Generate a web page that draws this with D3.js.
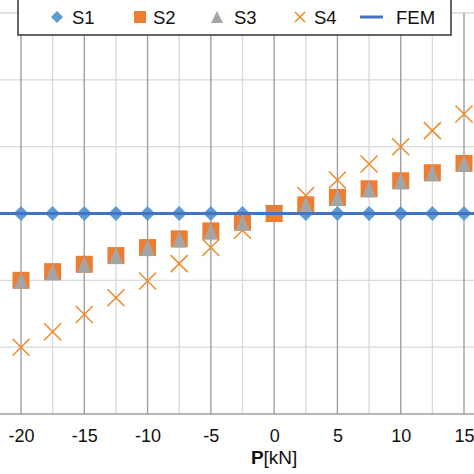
<!DOCTYPE html>
<html><head><meta charset="utf-8">
<script src="https://cdn.jsdelivr.net/npm/d3@7"></script>
<style>html,body{margin:0;padding:0;background:#fff;}svg{display:block;}</style>
</head><body>
<svg id="c" width="474" height="474"></svg>
<script>
const P = [-20,-17.5,-15,-12.5,-10,-7.5,-5,-2.5,0,2.5,5,7.5,10,12.5,15];
const S1 = [0,0,0,0,0,0,0,0,0,0,0,0,0,0,0];
const S2 = [-1.0,-0.87,-0.76,-0.63,-0.51,-0.38,-0.26,-0.13,0.0,0.13,0.24,0.37,0.49,0.61,0.75];
const S3 = [-1.0,-0.87,-0.76,-0.63,-0.51,-0.38,-0.26,-0.13,0.0,0.13,0.24,0.37,0.49,0.61,0.75];
const S4 = [-2.0,-1.77,-1.51,-1.26,-1.01,-0.75,-0.51,-0.25,0.0,0.27,0.50,0.74,1.0,1.24,1.49];
const FEM = [0,0];
const xTicks = [-20,-15,-10,-5,0,5,10,15];
const xMinor = [-17.5,-12.5,-7.5,-2.5,2.5,7.5,12.5];
const yGrid = [-3,-2,-1,0,1,2,3];
const legendNames = ["S1","S2","S3","S4","FEM"];

const svg = d3.select("#c");
const x = d3.scaleLinear().domain([-20,15]).range([21,464]);
const y = d3.scaleLinear().domain([-3,3]).range([414,13]);

// horizontal gridlines
svg.append("g").selectAll("line").data(yGrid.filter(d=>d>-3)).join("line")
  .attr("x1",0).attr("x2",474).attr("y1",d=>y(d)).attr("y2",d=>y(d))
  .attr("stroke","#d9d9d9").attr("stroke-width",1.3);
// minor vertical
svg.append("g").selectAll("line").data(xMinor).join("line")
  .attr("x1",d=>x(d)).attr("x2",d=>x(d)).attr("y1",y(3)).attr("y2",y(-3))
  .attr("stroke","#d9d9d9").attr("stroke-width",1.3);
// major vertical
svg.append("g").selectAll("line").data(xTicks).join("line")
  .attr("x1",d=>x(d)).attr("x2",d=>x(d)).attr("y1",y(3)).attr("y2",y(-3))
  .attr("stroke","#a0a0a0").attr("stroke-width",1.4);
// x axis line
svg.append("line").attr("x1",0).attr("x2",474).attr("y1",y(-3)).attr("y2",y(-3))
  .attr("stroke","#a0a0a0").attr("stroke-width",1.4);

// tick labels via axis
const ax = svg.append("g").attr("transform",`translate(0,${y(-3)})`)
  .call(d3.axisBottom(x).tickValues(xTicks).tickSize(0).tickPadding(15).tickFormat(d=>String(d)));
ax.select(".domain").remove();
ax.selectAll("text").attr("font-family","Liberation Sans, Arial, sans-serif").attr("font-size",18).attr("fill","#111");

// axis title
const t = svg.append("text").attr("x",x(0)).attr("y",464).attr("text-anchor","middle")
  .attr("font-family","Liberation Sans, Arial, sans-serif").attr("font-size",19).attr("fill","#111");
t.append("tspan").attr("font-weight","bold").text("P");
t.append("tspan").text("[kN]");

const xMark = (s)=>`M${-s},${-s}L${s},${s}M${-s},${s}L${s},${-s}`;
const pts = (arr)=>P.map((p,i)=>({p,v:arr[i]}));

// S1 diamonds
svg.append("g").selectAll("path").data(pts(S1)).join("path")
  .attr("transform",d=>`translate(${x(d.p)},${y(d.v)})`)
  .attr("d",`M0,-7.5L7.5,0L0,7.5L-7.5,0Z`).attr("fill","#5b9bd5");
// S4 X
svg.append("g").selectAll("path").data(pts(S4)).join("path")
  .attr("transform",d=>`translate(${x(d.p)},${y(d.v)})`)
  .attr("d",xMark(8.5)).attr("stroke","#ee8a2a").attr("stroke-width",1.5).attr("fill","none");
// S2 squares
svg.append("g").selectAll("rect").data(pts(S2)).join("rect")
  .attr("x",d=>x(d.p)-8.5).attr("y",d=>y(d.v)-8.5).attr("width",17).attr("height",17)
  .attr("fill","#ed7d31");
// S3 triangles
svg.append("g").selectAll("path").data(pts(S3).filter(d=>d.p!==0)).join("path")
  .attr("transform",d=>`translate(${x(d.p)},${y(d.v)})`)
  .attr("d","M0,-8.5L7,8.5L-7,8.5Z").attr("fill","#a5a5a5");
// FEM line
svg.append("line").attr("x1",0).attr("x2",474).attr("y1",y(FEM[0])).attr("y2",y(FEM[1]))
  .attr("stroke","#4472c4").attr("stroke-width",3);

// legend
const lg = svg.append("g");
lg.append("rect").attr("x",18).attr("y",-2).attr("width",433).attr("height",37)
  .attr("fill","#fff").attr("stroke","#333").attr("stroke-width",1.5);
const lf = {"font-family":"Liberation Sans, Arial, sans-serif","font-size":18.5,"fill":"#111"};
const lx = [72,153,234,314,396];
legendNames.forEach((n,i)=>{
  const tx = lg.append("text").attr("x",lx[i]).attr("y",23.5).text(n);
  Object.entries(lf).forEach(([k,v])=>tx.attr(k,v));
});
lg.append("path").attr("transform","translate(57,17)").attr("d","M0,-6L6,0L0,6L-6,0Z").attr("fill","#5b9bd5");
lg.append("rect").attr("x",134).attr("y",11).attr("width",12).attr("height",12).attr("fill","#ed7d31");
lg.append("path").attr("transform","translate(217,17)").attr("d","M0,-6L6,6L-6,6Z").attr("fill","#a5a5a5");
lg.append("path").attr("transform","translate(300,17)").attr("d",xMark(5)).attr("stroke","#ee8a2a").attr("stroke-width",1.5);
lg.append("line").attr("x1",360).attr("x2",383).attr("y1",17).attr("y2",17).attr("stroke","#4472c4").attr("stroke-width",3);
</script>
</body></html>
